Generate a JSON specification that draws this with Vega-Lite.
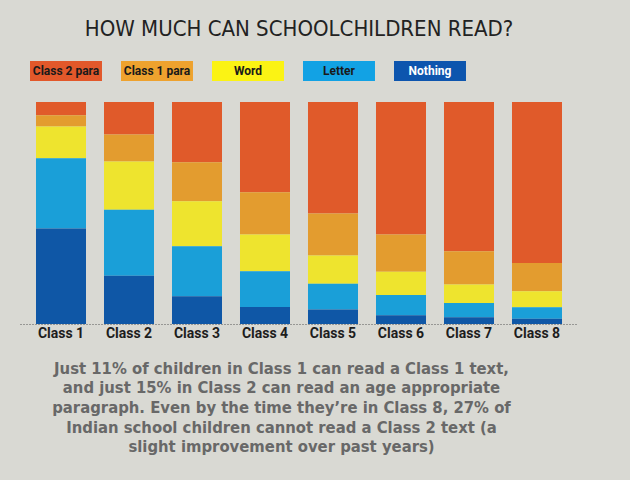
{
  "$schema": "https://vega.github.io/schema/vega-lite/v6.json",
  "background": "#d9d9d3",
  "padding": {"left": 20, "top": 18, "right": 52, "bottom": 24},
  "title": {"text": "HOW MUCH CAN SCHOOLCHILDREN READ?", "font": "DejaVu Sans Condensed, sans-serif", "fontSize": 22, "fontWeight": "normal", "color": "#222222", "anchor": "middle", "offset": 20},
  "config": {"view": {"stroke": null}},
  "spacing": 20,
  "resolve": {"scale": {"x": "independent", "color": "independent"}},
  "vconcat": [
    {
      "width": 456,
      "height": 20,
      "data": {"values": [{"item": "Class 2 para"}, {"item": "Class 1 para"}, {"item": "Word"}, {"item": "Letter"}, {"item": "Nothing"}]},
      "encoding": {
        "x": {"field": "item", "type": "nominal", "sort": null, "scale": {"domain": ["Class 2 para", "Class 1 para", "Word", "Letter", "Nothing"], "paddingInner": 0.209, "paddingOuter": 0.11}, "axis": null}
      },
      "layer": [
        {"mark": {"type": "rect"}, "encoding": {"color": {"field": "item", "type": "nominal", "scale": {"domain": ["Class 2 para", "Class 1 para", "Word", "Letter", "Nothing"], "range": ["#e2582a", "#eea22e", "#fbf314", "#12a2e4", "#0d55ae"]}, "legend": null}}},
        {"mark": {"type": "text", "font": "Roboto", "fontWeight": "bold", "fontSize": 12}, "encoding": {"text": {"field": "item"}, "color": {"condition": {"test": "datum.item === 'Nothing'", "value": "#ffffff"}, "value": "#1a1a1a"}}}
      ]
    },
    {
      "width": 558,
      "height": 222,
      "data": {"values": [
        {"cls": "Class 1", "level": "Class 2 para", "pct": 6.0},
        {"cls": "Class 1", "level": "Class 1 para", "pct": 5.0},
        {"cls": "Class 1", "level": "Word", "pct": 14.3},
        {"cls": "Class 1", "level": "Letter", "pct": 31.7},
        {"cls": "Class 1", "level": "Nothing", "pct": 43.0},
        {"cls": "Class 2", "level": "Class 2 para", "pct": 14.6},
        {"cls": "Class 2", "level": "Class 1 para", "pct": 12.2},
        {"cls": "Class 2", "level": "Word", "pct": 21.7},
        {"cls": "Class 2", "level": "Letter", "pct": 29.8},
        {"cls": "Class 2", "level": "Nothing", "pct": 21.7},
        {"cls": "Class 3", "level": "Class 2 para", "pct": 27.1},
        {"cls": "Class 3", "level": "Class 1 para", "pct": 17.6},
        {"cls": "Class 3", "level": "Word", "pct": 20.3},
        {"cls": "Class 3", "level": "Letter", "pct": 22.5},
        {"cls": "Class 3", "level": "Nothing", "pct": 12.5},
        {"cls": "Class 4", "level": "Class 2 para", "pct": 40.6},
        {"cls": "Class 4", "level": "Class 1 para", "pct": 19.1},
        {"cls": "Class 4", "level": "Word", "pct": 16.5},
        {"cls": "Class 4", "level": "Letter", "pct": 16.1},
        {"cls": "Class 4", "level": "Nothing", "pct": 7.7},
        {"cls": "Class 5", "level": "Class 2 para", "pct": 50.2},
        {"cls": "Class 5", "level": "Class 1 para", "pct": 18.9},
        {"cls": "Class 5", "level": "Word", "pct": 12.8},
        {"cls": "Class 5", "level": "Letter", "pct": 11.6},
        {"cls": "Class 5", "level": "Nothing", "pct": 6.5},
        {"cls": "Class 6", "level": "Class 2 para", "pct": 59.7},
        {"cls": "Class 6", "level": "Class 1 para", "pct": 16.8},
        {"cls": "Class 6", "level": "Word", "pct": 10.4},
        {"cls": "Class 6", "level": "Letter", "pct": 9.2},
        {"cls": "Class 6", "level": "Nothing", "pct": 3.9},
        {"cls": "Class 7", "level": "Class 2 para", "pct": 67.2},
        {"cls": "Class 7", "level": "Class 1 para", "pct": 15.0},
        {"cls": "Class 7", "level": "Word", "pct": 8.3},
        {"cls": "Class 7", "level": "Letter", "pct": 6.5},
        {"cls": "Class 7", "level": "Nothing", "pct": 3.0},
        {"cls": "Class 8", "level": "Class 2 para", "pct": 72.5},
        {"cls": "Class 8", "level": "Class 1 para", "pct": 12.8},
        {"cls": "Class 8", "level": "Word", "pct": 7.1},
        {"cls": "Class 8", "level": "Letter", "pct": 5.2},
        {"cls": "Class 8", "level": "Nothing", "pct": 2.4}
      ]},
      "transform": [{"calculate": "indexof(['Nothing', 'Letter', 'Word', 'Class 1 para', 'Class 2 para'], datum.level)", "as": "stackOrder"}],
      "mark": {"type": "bar"},
      "encoding": {
        "x": {"field": "cls", "type": "nominal", "sort": null, "scale": {"paddingInner": 0.2647, "paddingOuter": 0.2353},
          "axis": {"labelAngle": 0, "ticks": false, "labelFont": "Roboto", "labelFontSize": 14, "labelFontWeight": "bold", "labelColor": "#1d1d1d", "labelPadding": 2,
            "domainDash": [1, 2], "domainColor": "#555555", "domainWidth": 1,
            "title": ["Just 11% of children in Class 1 can read a Class 1 text,", "and just 15% in Class 2 can read an age appropriate", "paragraph. Even by the time they’re in Class 8, 27% of", "Indian school children cannot read a Class 2 text (a", "slight improvement over past years)"],
            "titleFont": "DejaVu Sans Condensed", "titleFontSize": 16.5, "titleFontWeight": "bold", "titleColor": "#686868", "titleLineHeight": 19.7, "titlePadding": 20, "titleX": 261}},
        "y": {"field": "pct", "type": "quantitative", "stack": "normalize", "axis": null},
        "order": {"field": "stackOrder", "type": "quantitative"},
        "color": {"field": "level", "type": "nominal",
          "scale": {"domain": ["Nothing", "Letter", "Word", "Class 1 para", "Class 2 para"], "range": ["#0f57a6", "#1a9fd8", "#eee42e", "#e39c2f", "#e05a2a"]}, "legend": null}
      }
    }
  ]
}
